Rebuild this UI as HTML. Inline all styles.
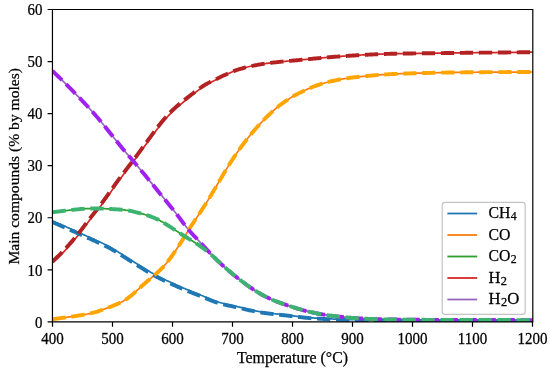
<!DOCTYPE html>
<html><head><meta charset="utf-8"><style>html,body{margin:0;padding:0;background:#fff;}svg{display:block;}</style></head>
<body>
<svg width="550" height="369" viewBox="0 0 550 369">
<rect width="550" height="369" fill="#fff"/>
<defs><clipPath id="ax"><rect x="52.5" y="9.5" width="480" height="312.4"/></clipPath>
<path id="cb" d="M52.5,222.20 L53.5,222.62 L54.5,223.04 L55.5,223.46 L56.5,223.88 L57.5,224.30 L58.5,224.73 L59.5,225.16 L60.5,225.58 L61.5,226.01 L62.5,226.45 L63.5,226.88 L64.5,227.32 L65.5,227.76 L66.5,228.20 L67.5,228.65 L68.5,229.10 L69.5,229.55 L70.5,230.00 L71.5,230.45 L72.5,230.90 L73.5,231.35 L74.5,231.81 L75.5,232.26 L76.5,232.71 L77.5,233.17 L78.5,233.62 L79.5,234.07 L80.5,234.52 L81.5,234.97 L82.5,235.42 L83.5,235.87 L84.5,236.31 L85.5,236.76 L86.5,237.21 L87.5,237.66 L88.5,238.10 L89.5,238.55 L90.5,239.00 L91.5,239.45 L92.5,239.90 L93.5,240.35 L94.5,240.80 L95.5,241.25 L96.5,241.70 L97.5,242.16 L98.5,242.61 L99.5,243.07 L100.5,243.52 L101.5,243.99 L102.5,244.46 L103.5,244.94 L104.5,245.42 L105.5,245.92 L106.5,246.42 L107.5,246.94 L108.5,247.47 L109.5,248.01 L110.5,248.57 L111.5,249.14 L112.5,249.72 L113.5,250.31 L114.5,250.91 L115.5,251.51 L116.5,252.13 L117.5,252.76 L118.5,253.39 L119.5,254.02 L120.5,254.65 L121.5,255.29 L122.5,255.93 L123.5,256.57 L124.5,257.21 L125.5,257.84 L126.5,258.48 L127.5,259.11 L128.5,259.75 L129.5,260.38 L130.5,261.01 L131.5,261.64 L132.5,262.27 L133.5,262.90 L134.5,263.53 L135.5,264.16 L136.5,264.79 L137.5,265.41 L138.5,266.04 L139.5,266.66 L140.5,267.28 L141.5,267.91 L142.5,268.52 L143.5,269.14 L144.5,269.76 L145.5,270.37 L146.5,270.98 L147.5,271.58 L148.5,272.18 L149.5,272.77 L150.5,273.36 L151.5,273.94 L152.5,274.51 L153.5,275.06 L154.5,275.61 L155.5,276.16 L156.5,276.69 L157.5,277.21 L158.5,277.72 L159.5,278.23 L160.5,278.73 L161.5,279.23 L162.5,279.71 L163.5,280.20 L164.5,280.68 L165.5,281.15 L166.5,281.62 L167.5,282.09 L168.5,282.56 L169.5,283.02 L170.5,283.48 L171.5,283.94 L172.5,284.40 L173.5,284.85 L174.5,285.31 L175.5,285.76 L176.5,286.21 L177.5,286.66 L178.5,287.10 L179.5,287.54 L180.5,287.98 L181.5,288.42 L182.5,288.85 L183.5,289.27 L184.5,289.70 L185.5,290.12 L186.5,290.53 L187.5,290.94 L188.5,291.34 L189.5,291.74 L190.5,292.14 L191.5,292.53 L192.5,292.92 L193.5,293.31 L194.5,293.70 L195.5,294.08 L196.5,294.47 L197.5,294.86 L198.5,295.25 L199.5,295.65 L200.5,296.05 L201.5,296.46 L202.5,296.87 L203.5,297.29 L204.5,297.71 L205.5,298.13 L206.5,298.55 L207.5,298.97 L208.5,299.39 L209.5,299.81 L210.5,300.22 L211.5,300.62 L212.5,301.00 L213.5,301.38 L214.5,301.75 L215.5,302.10 L216.5,302.43 L217.5,302.76 L218.5,303.06 L219.5,303.35 L220.5,303.63 L221.5,303.90 L222.5,304.15 L223.5,304.40 L224.5,304.64 L225.5,304.87 L226.5,305.09 L227.5,305.31 L228.5,305.53 L229.5,305.74 L230.5,305.96 L231.5,306.17 L232.5,306.38 L233.5,306.60 L234.5,306.81 L235.5,307.03 L236.5,307.25 L237.5,307.48 L238.5,307.70 L239.5,307.93 L240.5,308.17 L241.5,308.40 L242.5,308.64 L243.5,308.87 L244.5,309.11 L245.5,309.35 L246.5,309.58 L247.5,309.82 L248.5,310.05 L249.5,310.28 L250.5,310.50 L251.5,310.72 L252.5,310.94 L253.5,311.14 L254.5,311.35 L255.5,311.54 L256.5,311.73 L257.5,311.92 L258.5,312.09 L259.5,312.26 L260.5,312.42 L261.5,312.58 L262.5,312.73 L263.5,312.88 L264.5,313.02 L265.5,313.15 L266.5,313.28 L267.5,313.41 L268.5,313.53 L269.5,313.66 L270.5,313.78 L271.5,313.89 L272.5,314.01 L273.5,314.12 L274.5,314.23 L275.5,314.34 L276.5,314.45 L277.5,314.55 L278.5,314.66 L279.5,314.77 L280.5,314.87 L281.5,314.98 L282.5,315.09 L283.5,315.19 L284.5,315.30 L285.5,315.41 L286.5,315.52 L287.5,315.63 L288.5,315.74 L289.5,315.86 L290.5,315.98 L291.5,316.09 L292.5,316.21 L293.5,316.34 L294.5,316.46 L295.5,316.58 L296.5,316.70 L297.5,316.82 L298.5,316.95 L299.5,317.06 L300.5,317.18 L301.5,317.30 L302.5,317.41 L303.5,317.52 L304.5,317.62 L305.5,317.72 L306.5,317.81 L307.5,317.90 L308.5,317.99 L309.5,318.07 L310.5,318.15 L311.5,318.22 L312.5,318.29 L313.5,318.36 L314.5,318.43 L315.5,318.49 L316.5,318.55 L317.5,318.61 L318.5,318.67 L319.5,318.73 L320.5,318.79 L321.5,318.84 L322.5,318.89 L323.5,318.95 L324.5,319.00 L325.5,319.05 L326.5,319.10 L327.5,319.15 L328.5,319.21 L329.5,319.26 L330.5,319.31 L331.5,319.35 L332.5,319.40 L333.5,319.45 L334.5,319.50 L335.5,319.54 L336.5,319.59 L337.5,319.63 L338.5,319.67 L339.5,319.71 L340.5,319.75 L341.5,319.79 L342.5,319.82 L343.5,319.86 L344.5,319.89 L345.5,319.92 L346.5,319.95 L347.5,319.98 L348.5,320.00 L349.5,320.03 L350.5,320.06 L351.5,320.08 L352.5,320.11 L353.5,320.13 L354.5,320.16 L355.5,320.18 L356.5,320.20 L357.5,320.22 L358.5,320.25 L359.5,320.27 L360.5,320.29 L361.5,320.31 L362.5,320.33 L363.5,320.35 L364.5,320.37 L365.5,320.39 L366.5,320.40 L367.5,320.42 L368.5,320.44 L369.5,320.45 L370.5,320.47 L371.5,320.49 L372.5,320.50 L373.5,320.51 L374.5,320.53 L375.5,320.54 L376.5,320.55 L377.5,320.57 L378.5,320.58 L379.5,320.59 L380.5,320.60 L381.5,320.61 L382.5,320.62 L383.5,320.64 L384.5,320.65 L385.5,320.66 L386.5,320.67 L387.5,320.68 L388.5,320.68 L389.5,320.69 L390.5,320.70 L391.5,320.71 L392.5,320.72 L393.5,320.73 L394.5,320.74 L395.5,320.75 L396.5,320.75 L397.5,320.76 L398.5,320.77 L399.5,320.78 L400.5,320.78 L401.5,320.79 L402.5,320.80 L403.5,320.80 L404.5,320.81 L405.5,320.82 L406.5,320.82 L407.5,320.83 L408.5,320.84 L409.5,320.84 L410.5,320.85 L411.5,320.85 L412.5,320.86 L413.5,320.87 L414.5,320.87 L415.5,320.88 L416.5,320.88 L417.5,320.89 L418.5,320.89 L419.5,320.90 L420.5,320.90 L421.5,320.91 L422.5,320.91 L423.5,320.92 L424.5,320.92 L425.5,320.92 L426.5,320.93 L427.5,320.93 L428.5,320.94 L429.5,320.94 L430.5,320.95 L431.5,320.95 L432.5,320.95 L433.5,320.96 L434.5,320.96 L435.5,320.97 L436.5,320.97 L437.5,320.97 L438.5,320.98 L439.5,320.98 L440.5,320.98 L441.5,320.99 L442.5,320.99 L443.5,321.00 L444.5,321.00 L445.5,321.00 L446.5,321.01 L447.5,321.01 L448.5,321.01 L449.5,321.02 L450.5,321.02 L451.5,321.02 L452.5,321.03 L453.5,321.03 L454.5,321.03 L455.5,321.03 L456.5,321.04 L457.5,321.04 L458.5,321.04 L459.5,321.05 L460.5,321.05 L461.5,321.05 L462.5,321.05 L463.5,321.06 L464.5,321.06 L465.5,321.06 L466.5,321.07 L467.5,321.07 L468.5,321.07 L469.5,321.07 L470.5,321.08 L471.5,321.08 L472.5,321.08 L473.5,321.08 L474.5,321.09 L475.5,321.09 L476.5,321.09 L477.5,321.09 L478.5,321.10 L479.5,321.10 L480.5,321.10 L481.5,321.10 L482.5,321.11 L483.5,321.11 L484.5,321.11 L485.5,321.11 L486.5,321.12 L487.5,321.12 L488.5,321.12 L489.5,321.12 L490.5,321.12 L491.5,321.13 L492.5,321.13 L493.5,321.13 L494.5,321.13 L495.5,321.14 L496.5,321.14 L497.5,321.14 L498.5,321.14 L499.5,321.14 L500.5,321.15 L501.5,321.15 L502.5,321.15 L503.5,321.15 L504.5,321.15 L505.5,321.16 L506.5,321.16 L507.5,321.16 L508.5,321.16 L509.5,321.16 L510.5,321.17 L511.5,321.17 L512.5,321.17 L513.5,321.17 L514.5,321.17 L515.5,321.17 L516.5,321.18 L517.5,321.18 L518.5,321.18 L519.5,321.18 L520.5,321.18 L521.5,321.18 L522.5,321.19 L523.5,321.19 L524.5,321.19 L525.5,321.19 L526.5,321.19 L527.5,321.19 L528.5,321.19 L529.5,321.20 L530.5,321.20 L531.5,321.20 L532.5,321.20"/>
<path id="ctb" d="M52.5,221.00 L53.5,221.42 L54.5,221.84 L55.5,222.26 L56.5,222.68 L57.5,223.10 L58.5,223.53 L59.5,223.96 L60.5,224.38 L61.5,224.81 L62.5,225.25 L63.5,225.68 L64.5,226.12 L65.5,226.56 L66.5,227.00 L67.5,227.45 L68.5,227.90 L69.5,228.35 L70.5,228.80 L71.5,229.25 L72.5,229.70 L73.5,230.15 L74.5,230.61 L75.5,231.06 L76.5,231.51 L77.5,231.97 L78.5,232.42 L79.5,232.87 L80.5,233.32 L81.5,233.77 L82.5,234.22 L83.5,234.67 L84.5,235.11 L85.5,235.56 L86.5,236.01 L87.5,236.46 L88.5,236.90 L89.5,237.35 L90.5,237.80 L91.5,238.25 L92.5,238.70 L93.5,239.15 L94.5,239.60 L95.5,240.05 L96.5,240.50 L97.5,240.96 L98.5,241.41 L99.5,241.87 L100.5,242.32 L101.5,242.79 L102.5,243.26 L103.5,243.74 L104.5,244.22 L105.5,244.72 L106.5,245.22 L107.5,245.74 L108.5,246.27 L109.5,246.81 L110.5,247.37 L111.5,247.94 L112.5,248.52 L113.5,249.11 L114.5,249.71 L115.5,250.31 L116.5,250.93 L117.5,251.56 L118.5,252.19 L119.5,252.82 L120.5,253.45 L121.5,254.09 L122.5,254.73 L123.5,255.37 L124.5,256.01 L125.5,256.64 L126.5,257.28 L127.5,257.91 L128.5,258.55 L129.5,259.18 L130.5,259.81 L131.5,260.44 L132.5,261.07 L133.5,261.70 L134.5,262.33 L135.5,262.96 L136.5,263.59 L137.5,264.21 L138.5,264.84 L139.5,265.46 L140.5,266.08 L141.5,266.71 L142.5,267.32 L143.5,267.94 L144.5,268.56 L145.5,269.17 L146.5,269.78 L147.5,270.38 L148.5,270.98 L149.5,271.57 L150.5,272.16 L151.5,272.74 L152.5,273.31 L153.5,273.86 L154.5,274.41 L155.5,274.96 L156.5,275.49 L157.5,276.01 L158.5,276.52 L159.5,277.03 L160.5,277.53 L161.5,278.03 L162.5,278.51 L163.5,279.00 L164.5,279.48 L165.5,279.95 L166.5,280.42 L167.5,280.89 L168.5,281.36 L169.5,281.82 L170.5,282.28 L171.5,282.74 L172.5,283.20 L173.5,283.65 L174.5,284.11 L175.5,284.56 L176.5,285.01 L177.5,285.46 L178.5,285.90 L179.5,286.34 L180.5,286.79 L181.5,287.23 L182.5,287.67 L183.5,288.10 L184.5,288.53 L185.5,288.96 L186.5,289.38 L187.5,289.79 L188.5,290.20 L189.5,290.61 L190.5,291.02 L191.5,291.42 L192.5,291.81 L193.5,292.21 L194.5,292.60 L195.5,293.00 L196.5,293.39 L197.5,293.79 L198.5,294.19 L199.5,294.59 L200.5,295.00 L201.5,295.42 L202.5,295.84 L203.5,296.26 L204.5,296.69 L205.5,297.11 L206.5,297.54 L207.5,297.97 L208.5,298.40 L209.5,298.82 L210.5,299.24 L211.5,299.64 L212.5,300.04 L213.5,300.43 L214.5,300.80 L215.5,301.16 L216.5,301.50 L217.5,301.83 L218.5,302.14 L219.5,302.44 L220.5,302.73 L221.5,303.00 L222.5,303.26 L223.5,303.52 L224.5,303.76 L225.5,304.00 L226.5,304.23 L227.5,304.46 L228.5,304.68 L229.5,304.90 L230.5,305.12 L231.5,305.34 L232.5,305.56 L233.5,305.79 L234.5,306.01 L235.5,306.24 L236.5,306.46 L237.5,306.70 L238.5,306.93 L239.5,307.17 L240.5,307.41 L241.5,307.65 L242.5,307.89 L243.5,308.14 L244.5,308.38 L245.5,308.62 L246.5,308.87 L247.5,309.11 L248.5,309.35 L249.5,309.58 L250.5,309.81 L251.5,310.04 L252.5,310.26 L253.5,310.48 L254.5,310.69 L255.5,310.89 L256.5,311.09 L257.5,311.28 L258.5,311.46 L259.5,311.64 L260.5,311.81 L261.5,311.97 L262.5,312.13 L263.5,312.28 L264.5,312.43 L265.5,312.57 L266.5,312.71 L267.5,312.85 L268.5,312.98 L269.5,313.11 L270.5,313.23 L271.5,313.36 L272.5,313.48 L273.5,313.60 L274.5,313.72 L275.5,313.83 L276.5,313.95 L277.5,314.06 L278.5,314.18 L279.5,314.29 L280.5,314.40 L281.5,314.52 L282.5,314.63 L283.5,314.75 L284.5,314.86 L285.5,314.98 L286.5,315.09 L287.5,315.21 L288.5,315.33 L289.5,315.46 L290.5,315.58 L291.5,315.69 L292.5,315.81 L293.5,315.94 L294.5,316.06 L295.5,316.18 L296.5,316.30 L297.5,316.42 L298.5,316.55 L299.5,316.66 L300.5,316.78 L301.5,316.90 L302.5,317.01 L303.5,317.12 L304.5,317.22 L305.5,317.32 L306.5,317.41 L307.5,317.50 L308.5,317.59 L309.5,317.67 L310.5,317.75 L311.5,317.82 L312.5,317.89 L313.5,317.96 L314.5,318.03 L315.5,318.09 L316.5,318.15 L317.5,318.21 L318.5,318.27 L319.5,318.33 L320.5,318.39 L321.5,318.44 L322.5,318.49 L323.5,318.55 L324.5,318.60 L325.5,318.65 L326.5,318.70 L327.5,318.75 L328.5,318.81 L329.5,318.86 L330.5,318.91 L331.5,318.95 L332.5,319.00 L333.5,319.05 L334.5,319.10 L335.5,319.14 L336.5,319.19 L337.5,319.23 L338.5,319.27 L339.5,319.31 L340.5,319.35 L341.5,319.39 L342.5,319.42 L343.5,319.46 L344.5,319.49 L345.5,319.52 L346.5,319.55 L347.5,319.58 L348.5,319.60 L349.5,319.63 L350.5,319.66 L351.5,319.68 L352.5,319.71 L353.5,319.73 L354.5,319.76 L355.5,319.78 L356.5,319.80 L357.5,319.82 L358.5,319.85 L359.5,319.87 L360.5,319.89 L361.5,319.91 L362.5,319.93 L363.5,319.95 L364.5,319.97 L365.5,319.99 L366.5,320.00 L367.5,320.02 L368.5,320.04 L369.5,320.05 L370.5,320.07 L371.5,320.09 L372.5,320.10 L373.5,320.11 L374.5,320.13 L375.5,320.14 L376.5,320.15 L377.5,320.17 L378.5,320.18 L379.5,320.19 L380.5,320.20 L381.5,320.21 L382.5,320.22 L383.5,320.24 L384.5,320.25 L385.5,320.26 L386.5,320.27 L387.5,320.28 L388.5,320.28 L389.5,320.29 L390.5,320.30 L391.5,320.31 L392.5,320.32 L393.5,320.33 L394.5,320.34 L395.5,320.35 L396.5,320.35 L397.5,320.36 L398.5,320.37 L399.5,320.38 L400.5,320.38 L401.5,320.39 L402.5,320.40 L403.5,320.40 L404.5,320.41 L405.5,320.42 L406.5,320.42 L407.5,320.43 L408.5,320.44 L409.5,320.44 L410.5,320.45 L411.5,320.45 L412.5,320.46 L413.5,320.47 L414.5,320.47 L415.5,320.48 L416.5,320.48 L417.5,320.49 L418.5,320.49 L419.5,320.50 L420.5,320.50 L421.5,320.51 L422.5,320.51 L423.5,320.52 L424.5,320.52 L425.5,320.52 L426.5,320.53 L427.5,320.53 L428.5,320.54 L429.5,320.54 L430.5,320.55 L431.5,320.55 L432.5,320.55 L433.5,320.56 L434.5,320.56 L435.5,320.57 L436.5,320.57 L437.5,320.57 L438.5,320.58 L439.5,320.58 L440.5,320.58 L441.5,320.59 L442.5,320.59 L443.5,320.60 L444.5,320.60 L445.5,320.60 L446.5,320.61 L447.5,320.61 L448.5,320.61 L449.5,320.62 L450.5,320.62 L451.5,320.62 L452.5,320.63 L453.5,320.63 L454.5,320.63 L455.5,320.63 L456.5,320.64 L457.5,320.64 L458.5,320.64 L459.5,320.65 L460.5,320.65 L461.5,320.65 L462.5,320.65 L463.5,320.66 L464.5,320.66 L465.5,320.66 L466.5,320.67 L467.5,320.67 L468.5,320.67 L469.5,320.67 L470.5,320.68 L471.5,320.68 L472.5,320.68 L473.5,320.68 L474.5,320.69 L475.5,320.69 L476.5,320.69 L477.5,320.69 L478.5,320.70 L479.5,320.70 L480.5,320.70 L481.5,320.70 L482.5,320.71 L483.5,320.71 L484.5,320.71 L485.5,320.71 L486.5,320.72 L487.5,320.72 L488.5,320.72 L489.5,320.72 L490.5,320.72 L491.5,320.73 L492.5,320.73 L493.5,320.73 L494.5,320.73 L495.5,320.74 L496.5,320.74 L497.5,320.74 L498.5,320.74 L499.5,320.74 L500.5,320.75 L501.5,320.75 L502.5,320.75 L503.5,320.75 L504.5,320.75 L505.5,320.76 L506.5,320.76 L507.5,320.76 L508.5,320.76 L509.5,320.76 L510.5,320.77 L511.5,320.77 L512.5,320.77 L513.5,320.77 L514.5,320.77 L515.5,320.77 L516.5,320.78 L517.5,320.78 L518.5,320.78 L519.5,320.78 L520.5,320.78 L521.5,320.78 L522.5,320.79 L523.5,320.79 L524.5,320.79 L525.5,320.79 L526.5,320.79 L527.5,320.79 L528.5,320.79 L529.5,320.80 L530.5,320.80 L531.5,320.80 L532.5,320.80"/>
<path id="co" d="M52.5,319.20 L53.5,319.07 L54.5,318.94 L55.5,318.81 L56.5,318.67 L57.5,318.54 L58.5,318.41 L59.5,318.27 L60.5,318.14 L61.5,318.01 L62.5,317.87 L63.5,317.73 L64.5,317.60 L65.5,317.46 L66.5,317.32 L67.5,317.18 L68.5,317.05 L69.5,316.91 L70.5,316.77 L71.5,316.62 L72.5,316.48 L73.5,316.34 L74.5,316.19 L75.5,316.04 L76.5,315.89 L77.5,315.73 L78.5,315.58 L79.5,315.42 L80.5,315.26 L81.5,315.10 L82.5,314.93 L83.5,314.76 L84.5,314.59 L85.5,314.41 L86.5,314.22 L87.5,314.03 L88.5,313.84 L89.5,313.63 L90.5,313.42 L91.5,313.19 L92.5,312.95 L93.5,312.70 L94.5,312.43 L95.5,312.15 L96.5,311.85 L97.5,311.54 L98.5,311.21 L99.5,310.87 L100.5,310.52 L101.5,310.16 L102.5,309.79 L103.5,309.42 L104.5,309.04 L105.5,308.66 L106.5,308.27 L107.5,307.89 L108.5,307.50 L109.5,307.12 L110.5,306.73 L111.5,306.34 L112.5,305.95 L113.5,305.56 L114.5,305.16 L115.5,304.75 L116.5,304.33 L117.5,303.90 L118.5,303.46 L119.5,302.99 L120.5,302.51 L121.5,302.00 L122.5,301.47 L123.5,300.91 L124.5,300.32 L125.5,299.70 L126.5,299.05 L127.5,298.37 L128.5,297.65 L129.5,296.91 L130.5,296.13 L131.5,295.31 L132.5,294.47 L133.5,293.61 L134.5,292.72 L135.5,291.82 L136.5,290.90 L137.5,289.98 L138.5,289.05 L139.5,288.13 L140.5,287.22 L141.5,286.31 L142.5,285.42 L143.5,284.54 L144.5,283.67 L145.5,282.81 L146.5,281.95 L147.5,281.11 L148.5,280.26 L149.5,279.42 L150.5,278.57 L151.5,277.72 L152.5,276.87 L153.5,276.01 L154.5,275.14 L155.5,274.27 L156.5,273.38 L157.5,272.48 L158.5,271.55 L159.5,270.61 L160.5,269.64 L161.5,268.63 L162.5,267.59 L163.5,266.52 L164.5,265.40 L165.5,264.24 L166.5,263.04 L167.5,261.80 L168.5,260.53 L169.5,259.22 L170.5,257.88 L171.5,256.51 L172.5,255.12 L173.5,253.70 L174.5,252.25 L175.5,250.79 L176.5,249.30 L177.5,247.78 L178.5,246.25 L179.5,244.69 L180.5,243.12 L181.5,241.53 L182.5,239.92 L183.5,238.31 L184.5,236.70 L185.5,235.09 L186.5,233.48 L187.5,231.87 L188.5,230.28 L189.5,228.70 L190.5,227.13 L191.5,225.57 L192.5,224.02 L193.5,222.49 L194.5,220.96 L195.5,219.45 L196.5,217.94 L197.5,216.43 L198.5,214.93 L199.5,213.42 L200.5,211.91 L201.5,210.39 L202.5,208.86 L203.5,207.31 L204.5,205.75 L205.5,204.18 L206.5,202.59 L207.5,200.98 L208.5,199.36 L209.5,197.73 L210.5,196.08 L211.5,194.41 L212.5,192.74 L213.5,191.06 L214.5,189.37 L215.5,187.67 L216.5,185.96 L217.5,184.26 L218.5,182.55 L219.5,180.83 L220.5,179.12 L221.5,177.41 L222.5,175.71 L223.5,174.01 L224.5,172.32 L225.5,170.64 L226.5,168.98 L227.5,167.34 L228.5,165.71 L229.5,164.11 L230.5,162.54 L231.5,160.99 L232.5,159.46 L233.5,157.95 L234.5,156.46 L235.5,154.99 L236.5,153.53 L237.5,152.09 L238.5,150.66 L239.5,149.24 L240.5,147.84 L241.5,146.45 L242.5,145.08 L243.5,143.73 L244.5,142.40 L245.5,141.08 L246.5,139.79 L247.5,138.52 L248.5,137.26 L249.5,136.03 L250.5,134.81 L251.5,133.61 L252.5,132.42 L253.5,131.25 L254.5,130.09 L255.5,128.94 L256.5,127.80 L257.5,126.68 L258.5,125.57 L259.5,124.48 L260.5,123.40 L261.5,122.33 L262.5,121.28 L263.5,120.24 L264.5,119.22 L265.5,118.22 L266.5,117.22 L267.5,116.24 L268.5,115.27 L269.5,114.31 L270.5,113.36 L271.5,112.42 L272.5,111.50 L273.5,110.58 L274.5,109.69 L275.5,108.81 L276.5,107.96 L277.5,107.13 L278.5,106.32 L279.5,105.54 L280.5,104.77 L281.5,104.03 L282.5,103.30 L283.5,102.59 L284.5,101.88 L285.5,101.19 L286.5,100.51 L287.5,99.84 L288.5,99.18 L289.5,98.53 L290.5,97.89 L291.5,97.28 L292.5,96.67 L293.5,96.09 L294.5,95.52 L295.5,94.96 L296.5,94.42 L297.5,93.90 L298.5,93.38 L299.5,92.88 L300.5,92.39 L301.5,91.90 L302.5,91.43 L303.5,90.96 L304.5,90.49 L305.5,90.04 L306.5,89.59 L307.5,89.15 L308.5,88.71 L309.5,88.28 L310.5,87.86 L311.5,87.45 L312.5,87.05 L313.5,86.66 L314.5,86.28 L315.5,85.91 L316.5,85.56 L317.5,85.21 L318.5,84.87 L319.5,84.55 L320.5,84.23 L321.5,83.92 L322.5,83.61 L323.5,83.32 L324.5,83.03 L325.5,82.75 L326.5,82.48 L327.5,82.22 L328.5,81.96 L329.5,81.71 L330.5,81.46 L331.5,81.23 L332.5,80.99 L333.5,80.77 L334.5,80.55 L335.5,80.34 L336.5,80.13 L337.5,79.93 L338.5,79.73 L339.5,79.54 L340.5,79.36 L341.5,79.18 L342.5,79.00 L343.5,78.83 L344.5,78.67 L345.5,78.51 L346.5,78.36 L347.5,78.21 L348.5,78.07 L349.5,77.94 L350.5,77.80 L351.5,77.68 L352.5,77.55 L353.5,77.43 L354.5,77.31 L355.5,77.20 L356.5,77.09 L357.5,76.98 L358.5,76.87 L359.5,76.76 L360.5,76.65 L361.5,76.55 L362.5,76.44 L363.5,76.34 L364.5,76.24 L365.5,76.14 L366.5,76.04 L367.5,75.94 L368.5,75.84 L369.5,75.74 L370.5,75.65 L371.5,75.55 L372.5,75.46 L373.5,75.37 L374.5,75.28 L375.5,75.19 L376.5,75.11 L377.5,75.03 L378.5,74.95 L379.5,74.87 L380.5,74.79 L381.5,74.72 L382.5,74.65 L383.5,74.58 L384.5,74.52 L385.5,74.45 L386.5,74.39 L387.5,74.33 L388.5,74.27 L389.5,74.22 L390.5,74.16 L391.5,74.11 L392.5,74.06 L393.5,74.01 L394.5,73.96 L395.5,73.91 L396.5,73.87 L397.5,73.82 L398.5,73.78 L399.5,73.74 L400.5,73.70 L401.5,73.66 L402.5,73.63 L403.5,73.59 L404.5,73.56 L405.5,73.52 L406.5,73.49 L407.5,73.46 L408.5,73.43 L409.5,73.40 L410.5,73.37 L411.5,73.34 L412.5,73.31 L413.5,73.28 L414.5,73.25 L415.5,73.22 L416.5,73.19 L417.5,73.17 L418.5,73.14 L419.5,73.12 L420.5,73.09 L421.5,73.07 L422.5,73.04 L423.5,73.02 L424.5,73.00 L425.5,72.97 L426.5,72.95 L427.5,72.93 L428.5,72.91 L429.5,72.89 L430.5,72.87 L431.5,72.85 L432.5,72.83 L433.5,72.81 L434.5,72.79 L435.5,72.77 L436.5,72.75 L437.5,72.73 L438.5,72.71 L439.5,72.69 L440.5,72.67 L441.5,72.66 L442.5,72.64 L443.5,72.62 L444.5,72.60 L445.5,72.59 L446.5,72.57 L447.5,72.55 L448.5,72.54 L449.5,72.52 L450.5,72.51 L451.5,72.49 L452.5,72.48 L453.5,72.46 L454.5,72.45 L455.5,72.43 L456.5,72.42 L457.5,72.41 L458.5,72.39 L459.5,72.38 L460.5,72.37 L461.5,72.36 L462.5,72.35 L463.5,72.34 L464.5,72.33 L465.5,72.32 L466.5,72.31 L467.5,72.30 L468.5,72.29 L469.5,72.28 L470.5,72.27 L471.5,72.26 L472.5,72.26 L473.5,72.25 L474.5,72.24 L475.5,72.24 L476.5,72.23 L477.5,72.22 L478.5,72.21 L479.5,72.21 L480.5,72.20 L481.5,72.20 L482.5,72.19 L483.5,72.18 L484.5,72.18 L485.5,72.17 L486.5,72.17 L487.5,72.16 L488.5,72.16 L489.5,72.15 L490.5,72.15 L491.5,72.14 L492.5,72.14 L493.5,72.13 L494.5,72.13 L495.5,72.12 L496.5,72.12 L497.5,72.11 L498.5,72.11 L499.5,72.10 L500.5,72.10 L501.5,72.10 L502.5,72.09 L503.5,72.09 L504.5,72.08 L505.5,72.08 L506.5,72.08 L507.5,72.07 L508.5,72.07 L509.5,72.06 L510.5,72.06 L511.5,72.06 L512.5,72.05 L513.5,72.05 L514.5,72.05 L515.5,72.04 L516.5,72.04 L517.5,72.04 L518.5,72.03 L519.5,72.03 L520.5,72.03 L521.5,72.03 L522.5,72.02 L523.5,72.02 L524.5,72.02 L525.5,72.02 L526.5,72.01 L527.5,72.01 L528.5,72.01 L529.5,72.01 L530.5,72.00 L531.5,72.00 L532.5,72.00"/>
<path id="cr" d="M52.5,261.46 L53.5,260.54 L54.5,259.62 L55.5,258.69 L56.5,257.74 L57.5,256.78 L58.5,255.81 L59.5,254.82 L60.5,253.82 L61.5,252.80 L62.5,251.77 L63.5,250.72 L64.5,249.66 L65.5,248.58 L66.5,247.49 L67.5,246.39 L68.5,245.27 L69.5,244.15 L70.5,243.01 L71.5,241.86 L72.5,240.69 L73.5,239.52 L74.5,238.33 L75.5,237.13 L76.5,235.92 L77.5,234.69 L78.5,233.44 L79.5,232.17 L80.5,230.88 L81.5,229.58 L82.5,228.26 L83.5,226.93 L84.5,225.59 L85.5,224.25 L86.5,222.91 L87.5,221.58 L88.5,220.26 L89.5,218.96 L90.5,217.68 L91.5,216.41 L92.5,215.15 L93.5,213.90 L94.5,212.64 L95.5,211.39 L96.5,210.12 L97.5,208.84 L98.5,207.55 L99.5,206.24 L100.5,204.91 L101.5,203.56 L102.5,202.21 L103.5,200.83 L104.5,199.45 L105.5,198.06 L106.5,196.66 L107.5,195.26 L108.5,193.85 L109.5,192.44 L110.5,191.03 L111.5,189.61 L112.5,188.20 L113.5,186.78 L114.5,185.38 L115.5,183.97 L116.5,182.58 L117.5,181.19 L118.5,179.82 L119.5,178.45 L120.5,177.09 L121.5,175.75 L122.5,174.41 L123.5,173.08 L124.5,171.76 L125.5,170.45 L126.5,169.15 L127.5,167.85 L128.5,166.55 L129.5,165.26 L130.5,163.95 L131.5,162.64 L132.5,161.31 L133.5,159.98 L134.5,158.63 L135.5,157.27 L136.5,155.91 L137.5,154.54 L138.5,153.16 L139.5,151.78 L140.5,150.41 L141.5,149.04 L142.5,147.67 L143.5,146.31 L144.5,144.95 L145.5,143.59 L146.5,142.23 L147.5,140.87 L148.5,139.51 L149.5,138.15 L150.5,136.79 L151.5,135.42 L152.5,134.06 L153.5,132.71 L154.5,131.35 L155.5,130.01 L156.5,128.68 L157.5,127.36 L158.5,126.05 L159.5,124.77 L160.5,123.50 L161.5,122.26 L162.5,121.05 L163.5,119.85 L164.5,118.69 L165.5,117.55 L166.5,116.43 L167.5,115.34 L168.5,114.27 L169.5,113.22 L170.5,112.19 L171.5,111.19 L172.5,110.21 L173.5,109.25 L174.5,108.31 L175.5,107.39 L176.5,106.49 L177.5,105.61 L178.5,104.75 L179.5,103.91 L180.5,103.09 L181.5,102.28 L182.5,101.48 L183.5,100.69 L184.5,99.91 L185.5,99.14 L186.5,98.36 L187.5,97.59 L188.5,96.82 L189.5,96.04 L190.5,95.27 L191.5,94.49 L192.5,93.71 L193.5,92.93 L194.5,92.16 L195.5,91.39 L196.5,90.63 L197.5,89.88 L198.5,89.14 L199.5,88.43 L200.5,87.73 L201.5,87.05 L202.5,86.39 L203.5,85.76 L204.5,85.14 L205.5,84.55 L206.5,83.98 L207.5,83.42 L208.5,82.88 L209.5,82.36 L210.5,81.85 L211.5,81.34 L212.5,80.85 L213.5,80.36 L214.5,79.88 L215.5,79.41 L216.5,78.93 L217.5,78.46 L218.5,77.98 L219.5,77.51 L220.5,77.04 L221.5,76.56 L222.5,76.08 L223.5,75.61 L224.5,75.13 L225.5,74.66 L226.5,74.19 L227.5,73.73 L228.5,73.27 L229.5,72.82 L230.5,72.39 L231.5,71.97 L232.5,71.56 L233.5,71.17 L234.5,70.80 L235.5,70.43 L236.5,70.09 L237.5,69.76 L238.5,69.44 L239.5,69.13 L240.5,68.83 L241.5,68.55 L242.5,68.27 L243.5,68.00 L244.5,67.73 L245.5,67.47 L246.5,67.22 L247.5,66.98 L248.5,66.74 L249.5,66.51 L250.5,66.29 L251.5,66.07 L252.5,65.86 L253.5,65.65 L254.5,65.45 L255.5,65.25 L256.5,65.06 L257.5,64.88 L258.5,64.70 L259.5,64.53 L260.5,64.36 L261.5,64.19 L262.5,64.03 L263.5,63.88 L264.5,63.73 L265.5,63.59 L266.5,63.44 L267.5,63.31 L268.5,63.17 L269.5,63.04 L270.5,62.91 L271.5,62.79 L272.5,62.67 L273.5,62.55 L274.5,62.43 L275.5,62.32 L276.5,62.20 L277.5,62.09 L278.5,61.99 L279.5,61.88 L280.5,61.78 L281.5,61.67 L282.5,61.57 L283.5,61.48 L284.5,61.38 L285.5,61.29 L286.5,61.19 L287.5,61.10 L288.5,61.01 L289.5,60.92 L290.5,60.83 L291.5,60.74 L292.5,60.65 L293.5,60.56 L294.5,60.47 L295.5,60.38 L296.5,60.28 L297.5,60.19 L298.5,60.10 L299.5,60.00 L300.5,59.91 L301.5,59.81 L302.5,59.72 L303.5,59.62 L304.5,59.53 L305.5,59.43 L306.5,59.33 L307.5,59.24 L308.5,59.14 L309.5,59.05 L310.5,58.95 L311.5,58.85 L312.5,58.76 L313.5,58.66 L314.5,58.56 L315.5,58.47 L316.5,58.37 L317.5,58.28 L318.5,58.19 L319.5,58.09 L320.5,58.00 L321.5,57.91 L322.5,57.82 L323.5,57.73 L324.5,57.64 L325.5,57.55 L326.5,57.47 L327.5,57.38 L328.5,57.30 L329.5,57.21 L330.5,57.13 L331.5,57.05 L332.5,56.97 L333.5,56.89 L334.5,56.81 L335.5,56.74 L336.5,56.66 L337.5,56.59 L338.5,56.51 L339.5,56.44 L340.5,56.37 L341.5,56.29 L342.5,56.22 L343.5,56.15 L344.5,56.08 L345.5,56.01 L346.5,55.94 L347.5,55.88 L348.5,55.81 L349.5,55.74 L350.5,55.68 L351.5,55.62 L352.5,55.55 L353.5,55.49 L354.5,55.43 L355.5,55.37 L356.5,55.31 L357.5,55.25 L358.5,55.19 L359.5,55.13 L360.5,55.08 L361.5,55.02 L362.5,54.96 L363.5,54.91 L364.5,54.85 L365.5,54.80 L366.5,54.74 L367.5,54.69 L368.5,54.64 L369.5,54.59 L370.5,54.54 L371.5,54.49 L372.5,54.44 L373.5,54.39 L374.5,54.34 L375.5,54.30 L376.5,54.26 L377.5,54.21 L378.5,54.17 L379.5,54.13 L380.5,54.10 L381.5,54.06 L382.5,54.03 L383.5,54.00 L384.5,53.96 L385.5,53.94 L386.5,53.91 L387.5,53.88 L388.5,53.85 L389.5,53.83 L390.5,53.80 L391.5,53.78 L392.5,53.76 L393.5,53.73 L394.5,53.71 L395.5,53.69 L396.5,53.67 L397.5,53.65 L398.5,53.64 L399.5,53.62 L400.5,53.60 L401.5,53.59 L402.5,53.57 L403.5,53.55 L404.5,53.54 L405.5,53.52 L406.5,53.51 L407.5,53.50 L408.5,53.48 L409.5,53.47 L410.5,53.46 L411.5,53.45 L412.5,53.43 L413.5,53.42 L414.5,53.41 L415.5,53.40 L416.5,53.39 L417.5,53.38 L418.5,53.37 L419.5,53.36 L420.5,53.34 L421.5,53.33 L422.5,53.32 L423.5,53.31 L424.5,53.30 L425.5,53.29 L426.5,53.28 L427.5,53.27 L428.5,53.26 L429.5,53.25 L430.5,53.24 L431.5,53.22 L432.5,53.21 L433.5,53.20 L434.5,53.19 L435.5,53.18 L436.5,53.17 L437.5,53.15 L438.5,53.14 L439.5,53.13 L440.5,53.12 L441.5,53.10 L442.5,53.09 L443.5,53.08 L444.5,53.07 L445.5,53.05 L446.5,53.04 L447.5,53.03 L448.5,53.02 L449.5,53.00 L450.5,52.99 L451.5,52.98 L452.5,52.97 L453.5,52.95 L454.5,52.94 L455.5,52.93 L456.5,52.92 L457.5,52.91 L458.5,52.90 L459.5,52.88 L460.5,52.87 L461.5,52.86 L462.5,52.85 L463.5,52.84 L464.5,52.83 L465.5,52.82 L466.5,52.81 L467.5,52.80 L468.5,52.79 L469.5,52.78 L470.5,52.77 L471.5,52.76 L472.5,52.75 L473.5,52.74 L474.5,52.73 L475.5,52.72 L476.5,52.71 L477.5,52.70 L478.5,52.69 L479.5,52.68 L480.5,52.67 L481.5,52.66 L482.5,52.66 L483.5,52.65 L484.5,52.64 L485.5,52.63 L486.5,52.62 L487.5,52.61 L488.5,52.60 L489.5,52.59 L490.5,52.59 L491.5,52.58 L492.5,52.57 L493.5,52.56 L494.5,52.55 L495.5,52.54 L496.5,52.53 L497.5,52.52 L498.5,52.52 L499.5,52.51 L500.5,52.50 L501.5,52.49 L502.5,52.48 L503.5,52.47 L504.5,52.46 L505.5,52.45 L506.5,52.44 L507.5,52.43 L508.5,52.42 L509.5,52.42 L510.5,52.41 L511.5,52.40 L512.5,52.39 L513.5,52.38 L514.5,52.37 L515.5,52.36 L516.5,52.35 L517.5,52.34 L518.5,52.33 L519.5,52.32 L520.5,52.31 L521.5,52.30 L522.5,52.29 L523.5,52.28 L524.5,52.28 L525.5,52.27 L526.5,52.26 L527.5,52.25 L528.5,52.24 L529.5,52.23 L530.5,52.22 L531.5,52.21 L532.5,52.20"/>
<path id="ctr" d="M52.5,262.86 L53.5,261.94 L54.5,261.02 L55.5,260.09 L56.5,259.14 L57.5,258.18 L58.5,257.21 L59.5,256.22 L60.5,255.22 L61.5,254.20 L62.5,253.17 L63.5,252.12 L64.5,251.06 L65.5,249.98 L66.5,248.89 L67.5,247.79 L68.5,246.67 L69.5,245.55 L70.5,244.41 L71.5,243.26 L72.5,242.09 L73.5,240.92 L74.5,239.73 L75.5,238.53 L76.5,237.32 L77.5,236.09 L78.5,234.84 L79.5,233.57 L80.5,232.28 L81.5,230.98 L82.5,229.66 L83.5,228.33 L84.5,226.99 L85.5,225.65 L86.5,224.31 L87.5,222.98 L88.5,221.66 L89.5,220.36 L90.5,219.08 L91.5,217.81 L92.5,216.55 L93.5,215.30 L94.5,214.04 L95.5,212.79 L96.5,211.52 L97.5,210.24 L98.5,208.95 L99.5,207.64 L100.5,206.31 L101.5,204.96 L102.5,203.61 L103.5,202.23 L104.5,200.85 L105.5,199.46 L106.5,198.06 L107.5,196.66 L108.5,195.25 L109.5,193.84 L110.5,192.43 L111.5,191.01 L112.5,189.60 L113.5,188.18 L114.5,186.78 L115.5,185.37 L116.5,183.98 L117.5,182.59 L118.5,181.22 L119.5,179.85 L120.5,178.49 L121.5,177.15 L122.5,175.81 L123.5,174.48 L124.5,173.16 L125.5,171.85 L126.5,170.55 L127.5,169.25 L128.5,167.95 L129.5,166.66 L130.5,165.35 L131.5,164.04 L132.5,162.71 L133.5,161.38 L134.5,160.03 L135.5,158.67 L136.5,157.31 L137.5,155.94 L138.5,154.56 L139.5,153.18 L140.5,151.81 L141.5,150.44 L142.5,149.07 L143.5,147.71 L144.5,146.35 L145.5,144.99 L146.5,143.63 L147.5,142.27 L148.5,140.91 L149.5,139.55 L150.5,138.19 L151.5,136.82 L152.5,135.46 L153.5,134.11 L154.5,132.75 L155.5,131.41 L156.5,130.08 L157.5,128.76 L158.5,127.45 L159.5,126.17 L160.5,124.90 L161.5,123.66 L162.5,122.45 L163.5,121.25 L164.5,120.09 L165.5,118.95 L166.5,117.83 L167.5,116.74 L168.5,115.67 L169.5,114.62 L170.5,113.59 L171.5,112.59 L172.5,111.61 L173.5,110.65 L174.5,109.71 L175.5,108.79 L176.5,107.89 L177.5,107.01 L178.5,106.15 L179.5,105.31 L180.5,104.48 L181.5,103.64 L182.5,102.82 L183.5,102.01 L184.5,101.21 L185.5,100.41 L186.5,99.61 L187.5,98.82 L188.5,98.02 L189.5,97.22 L190.5,96.42 L191.5,95.62 L192.5,94.82 L193.5,94.02 L194.5,93.22 L195.5,92.42 L196.5,91.64 L197.5,90.87 L198.5,90.11 L199.5,89.37 L200.5,88.65 L201.5,87.95 L202.5,87.27 L203.5,86.61 L204.5,85.97 L205.5,85.36 L206.5,84.76 L207.5,84.18 L208.5,83.62 L209.5,83.07 L210.5,82.53 L211.5,82.01 L212.5,81.49 L213.5,80.98 L214.5,80.48 L215.5,79.98 L216.5,79.48 L217.5,78.98 L218.5,78.49 L219.5,77.99 L220.5,77.49 L221.5,76.99 L222.5,76.49 L223.5,75.99 L224.5,75.49 L225.5,75.00 L226.5,74.50 L227.5,74.02 L228.5,73.54 L229.5,73.07 L230.5,72.61 L231.5,72.17 L232.5,71.74 L233.5,71.32 L234.5,70.92 L235.5,70.54 L236.5,70.17 L237.5,69.82 L238.5,69.47 L239.5,69.14 L240.5,68.83 L241.5,68.55 L242.5,68.27 L243.5,68.00 L244.5,67.73 L245.5,67.47 L246.5,67.22 L247.5,66.98 L248.5,66.74 L249.5,66.51 L250.5,66.29 L251.5,66.07 L252.5,65.86 L253.5,65.65 L254.5,65.45 L255.5,65.25 L256.5,65.06 L257.5,64.88 L258.5,64.70 L259.5,64.53 L260.5,64.36 L261.5,64.19 L262.5,64.03 L263.5,63.88 L264.5,63.73 L265.5,63.59 L266.5,63.44 L267.5,63.31 L268.5,63.17 L269.5,63.04 L270.5,62.91 L271.5,62.79 L272.5,62.67 L273.5,62.55 L274.5,62.43 L275.5,62.32 L276.5,62.20 L277.5,62.09 L278.5,61.99 L279.5,61.88 L280.5,61.78 L281.5,61.67 L282.5,61.57 L283.5,61.48 L284.5,61.38 L285.5,61.29 L286.5,61.19 L287.5,61.10 L288.5,61.01 L289.5,60.92 L290.5,60.83 L291.5,60.74 L292.5,60.65 L293.5,60.56 L294.5,60.47 L295.5,60.38 L296.5,60.28 L297.5,60.19 L298.5,60.10 L299.5,60.00 L300.5,59.91 L301.5,59.81 L302.5,59.72 L303.5,59.62 L304.5,59.53 L305.5,59.43 L306.5,59.33 L307.5,59.24 L308.5,59.14 L309.5,59.05 L310.5,58.95 L311.5,58.85 L312.5,58.76 L313.5,58.66 L314.5,58.56 L315.5,58.47 L316.5,58.37 L317.5,58.28 L318.5,58.19 L319.5,58.09 L320.5,58.00 L321.5,57.91 L322.5,57.82 L323.5,57.73 L324.5,57.64 L325.5,57.55 L326.5,57.47 L327.5,57.38 L328.5,57.30 L329.5,57.21 L330.5,57.13 L331.5,57.05 L332.5,56.97 L333.5,56.89 L334.5,56.81 L335.5,56.74 L336.5,56.66 L337.5,56.59 L338.5,56.51 L339.5,56.44 L340.5,56.37 L341.5,56.29 L342.5,56.22 L343.5,56.15 L344.5,56.08 L345.5,56.01 L346.5,55.94 L347.5,55.88 L348.5,55.81 L349.5,55.74 L350.5,55.68 L351.5,55.62 L352.5,55.55 L353.5,55.49 L354.5,55.43 L355.5,55.37 L356.5,55.31 L357.5,55.25 L358.5,55.19 L359.5,55.13 L360.5,55.08 L361.5,55.02 L362.5,54.96 L363.5,54.91 L364.5,54.85 L365.5,54.80 L366.5,54.74 L367.5,54.69 L368.5,54.64 L369.5,54.59 L370.5,54.54 L371.5,54.49 L372.5,54.44 L373.5,54.39 L374.5,54.34 L375.5,54.30 L376.5,54.26 L377.5,54.21 L378.5,54.17 L379.5,54.13 L380.5,54.10 L381.5,54.06 L382.5,54.03 L383.5,54.00 L384.5,53.96 L385.5,53.94 L386.5,53.91 L387.5,53.88 L388.5,53.85 L389.5,53.83 L390.5,53.80 L391.5,53.78 L392.5,53.76 L393.5,53.73 L394.5,53.71 L395.5,53.69 L396.5,53.67 L397.5,53.65 L398.5,53.64 L399.5,53.62 L400.5,53.60 L401.5,53.59 L402.5,53.57 L403.5,53.55 L404.5,53.54 L405.5,53.52 L406.5,53.51 L407.5,53.50 L408.5,53.48 L409.5,53.47 L410.5,53.46 L411.5,53.45 L412.5,53.43 L413.5,53.42 L414.5,53.41 L415.5,53.40 L416.5,53.39 L417.5,53.38 L418.5,53.37 L419.5,53.36 L420.5,53.34 L421.5,53.33 L422.5,53.32 L423.5,53.31 L424.5,53.30 L425.5,53.29 L426.5,53.28 L427.5,53.27 L428.5,53.26 L429.5,53.25 L430.5,53.24 L431.5,53.22 L432.5,53.21 L433.5,53.20 L434.5,53.19 L435.5,53.18 L436.5,53.17 L437.5,53.15 L438.5,53.14 L439.5,53.13 L440.5,53.12 L441.5,53.10 L442.5,53.09 L443.5,53.08 L444.5,53.07 L445.5,53.05 L446.5,53.04 L447.5,53.03 L448.5,53.02 L449.5,53.00 L450.5,52.99 L451.5,52.98 L452.5,52.97 L453.5,52.95 L454.5,52.94 L455.5,52.93 L456.5,52.92 L457.5,52.91 L458.5,52.90 L459.5,52.88 L460.5,52.87 L461.5,52.86 L462.5,52.85 L463.5,52.84 L464.5,52.83 L465.5,52.82 L466.5,52.81 L467.5,52.80 L468.5,52.79 L469.5,52.78 L470.5,52.77 L471.5,52.76 L472.5,52.75 L473.5,52.74 L474.5,52.73 L475.5,52.72 L476.5,52.71 L477.5,52.70 L478.5,52.69 L479.5,52.68 L480.5,52.67 L481.5,52.66 L482.5,52.66 L483.5,52.65 L484.5,52.64 L485.5,52.63 L486.5,52.62 L487.5,52.61 L488.5,52.60 L489.5,52.59 L490.5,52.59 L491.5,52.58 L492.5,52.57 L493.5,52.56 L494.5,52.55 L495.5,52.54 L496.5,52.53 L497.5,52.52 L498.5,52.52 L499.5,52.51 L500.5,52.50 L501.5,52.49 L502.5,52.48 L503.5,52.47 L504.5,52.46 L505.5,52.45 L506.5,52.44 L507.5,52.43 L508.5,52.42 L509.5,52.42 L510.5,52.41 L511.5,52.40 L512.5,52.39 L513.5,52.38 L514.5,52.37 L515.5,52.36 L516.5,52.35 L517.5,52.34 L518.5,52.33 L519.5,52.32 L520.5,52.31 L521.5,52.30 L522.5,52.29 L523.5,52.28 L524.5,52.28 L525.5,52.27 L526.5,52.26 L527.5,52.25 L528.5,52.24 L529.5,52.23 L530.5,52.22 L531.5,52.21 L532.5,52.20"/>
<path id="cp" d="M52.5,70.91 L53.5,71.87 L54.5,72.84 L55.5,73.81 L56.5,74.78 L57.5,75.76 L58.5,76.74 L59.5,77.72 L60.5,78.70 L61.5,79.68 L62.5,80.67 L63.5,81.67 L64.5,82.66 L65.5,83.66 L66.5,84.66 L67.5,85.66 L68.5,86.67 L69.5,87.68 L70.5,88.69 L71.5,89.71 L72.5,90.72 L73.5,91.74 L74.5,92.76 L75.5,93.79 L76.5,94.81 L77.5,95.84 L78.5,96.87 L79.5,97.91 L80.5,98.95 L81.5,99.99 L82.5,101.04 L83.5,102.09 L84.5,103.14 L85.5,104.21 L86.5,105.28 L87.5,106.35 L88.5,107.44 L89.5,108.53 L90.5,109.63 L91.5,110.74 L92.5,111.86 L93.5,112.99 L94.5,114.13 L95.5,115.27 L96.5,116.43 L97.5,117.59 L98.5,118.76 L99.5,119.95 L100.5,121.13 L101.5,122.33 L102.5,123.54 L103.5,124.76 L104.5,125.98 L105.5,127.21 L106.5,128.45 L107.5,129.70 L108.5,130.95 L109.5,132.21 L110.5,133.47 L111.5,134.74 L112.5,136.00 L113.5,137.27 L114.5,138.53 L115.5,139.79 L116.5,141.05 L117.5,142.30 L118.5,143.55 L119.5,144.79 L120.5,146.01 L121.5,147.23 L122.5,148.44 L123.5,149.64 L124.5,150.83 L125.5,152.01 L126.5,153.19 L127.5,154.35 L128.5,155.52 L129.5,156.69 L130.5,157.85 L131.5,159.02 L132.5,160.19 L133.5,161.37 L134.5,162.55 L135.5,163.74 L136.5,164.93 L137.5,166.13 L138.5,167.33 L139.5,168.53 L140.5,169.74 L141.5,170.95 L142.5,172.16 L143.5,173.38 L144.5,174.59 L145.5,175.81 L146.5,177.02 L147.5,178.24 L148.5,179.46 L149.5,180.67 L150.5,181.89 L151.5,183.11 L152.5,184.34 L153.5,185.56 L154.5,186.78 L155.5,188.01 L156.5,189.24 L157.5,190.46 L158.5,191.69 L159.5,192.92 L160.5,194.15 L161.5,195.38 L162.5,196.61 L163.5,197.83 L164.5,199.06 L165.5,200.29 L166.5,201.51 L167.5,202.74 L168.5,203.96 L169.5,205.19 L170.5,206.42 L171.5,207.66 L172.5,208.90 L173.5,210.15 L174.5,211.41 L175.5,212.68 L176.5,213.97 L177.5,215.28 L178.5,216.60 L179.5,217.93 L180.5,219.28 L181.5,220.64 L182.5,221.99 L183.5,223.34 L184.5,224.68 L185.5,226.00 L186.5,227.29 L187.5,228.54 L188.5,229.76 L189.5,230.94 L190.5,232.07 L191.5,233.18 L192.5,234.25 L193.5,235.31 L194.5,236.35 L195.5,237.38 L196.5,238.42 L197.5,239.46 L198.5,240.51 L199.5,241.57 L200.5,242.65 L201.5,243.74 L202.5,244.84 L203.5,245.95 L204.5,247.05 L205.5,248.16 L206.5,249.26 L207.5,250.35 L208.5,251.42 L209.5,252.49 L210.5,253.54 L211.5,254.58 L212.5,255.61 L213.5,256.62 L214.5,257.62 L215.5,258.61 L216.5,259.59 L217.5,260.56 L218.5,261.51 L219.5,262.46 L220.5,263.40 L221.5,264.32 L222.5,265.24 L223.5,266.14 L224.5,267.04 L225.5,267.93 L226.5,268.80 L227.5,269.67 L228.5,270.53 L229.5,271.38 L230.5,272.23 L231.5,273.06 L232.5,273.89 L233.5,274.71 L234.5,275.52 L235.5,276.32 L236.5,277.12 L237.5,277.91 L238.5,278.70 L239.5,279.48 L240.5,280.25 L241.5,281.02 L242.5,281.78 L243.5,282.53 L244.5,283.28 L245.5,284.01 L246.5,284.74 L247.5,285.46 L248.5,286.17 L249.5,286.86 L250.5,287.55 L251.5,288.22 L252.5,288.89 L253.5,289.54 L254.5,290.19 L255.5,290.83 L256.5,291.45 L257.5,292.07 L258.5,292.68 L259.5,293.28 L260.5,293.87 L261.5,294.44 L262.5,295.01 L263.5,295.56 L264.5,296.09 L265.5,296.62 L266.5,297.13 L267.5,297.62 L268.5,298.10 L269.5,298.56 L270.5,299.02 L271.5,299.45 L272.5,299.88 L273.5,300.29 L274.5,300.70 L275.5,301.09 L276.5,301.48 L277.5,301.85 L278.5,302.22 L279.5,302.59 L280.5,302.95 L281.5,303.30 L282.5,303.65 L283.5,304.00 L284.5,304.34 L285.5,304.68 L286.5,305.02 L287.5,305.36 L288.5,305.69 L289.5,306.03 L290.5,306.36 L291.5,306.69 L292.5,307.01 L293.5,307.33 L294.5,307.65 L295.5,307.97 L296.5,308.28 L297.5,308.58 L298.5,308.88 L299.5,309.18 L300.5,309.46 L301.5,309.75 L302.5,310.02 L303.5,310.29 L304.5,310.55 L305.5,310.81 L306.5,311.06 L307.5,311.31 L308.5,311.55 L309.5,311.79 L310.5,312.02 L311.5,312.25 L312.5,312.48 L313.5,312.69 L314.5,312.91 L315.5,313.12 L316.5,313.32 L317.5,313.52 L318.5,313.71 L319.5,313.90 L320.5,314.08 L321.5,314.26 L322.5,314.43 L323.5,314.59 L324.5,314.76 L325.5,314.91 L326.5,315.07 L327.5,315.22 L328.5,315.36 L329.5,315.51 L330.5,315.64 L331.5,315.78 L332.5,315.91 L333.5,316.04 L334.5,316.17 L335.5,316.29 L336.5,316.41 L337.5,316.53 L338.5,316.64 L339.5,316.75 L340.5,316.85 L341.5,316.96 L342.5,317.06 L343.5,317.16 L344.5,317.25 L345.5,317.35 L346.5,317.44 L347.5,317.53 L348.5,317.61 L349.5,317.70 L350.5,317.78 L351.5,317.86 L352.5,317.93 L353.5,318.01 L354.5,318.08 L355.5,318.15 L356.5,318.22 L357.5,318.28 L358.5,318.34 L359.5,318.40 L360.5,318.46 L361.5,318.52 L362.5,318.57 L363.5,318.62 L364.5,318.68 L365.5,318.73 L366.5,318.77 L367.5,318.82 L368.5,318.87 L369.5,318.91 L370.5,318.95 L371.5,318.99 L372.5,319.03 L373.5,319.07 L374.5,319.10 L375.5,319.14 L376.5,319.17 L377.5,319.20 L378.5,319.23 L379.5,319.25 L380.5,319.28 L381.5,319.30 L382.5,319.32 L383.5,319.35 L384.5,319.37 L385.5,319.39 L386.5,319.40 L387.5,319.42 L388.5,319.44 L389.5,319.46 L390.5,319.47 L391.5,319.49 L392.5,319.51 L393.5,319.52 L394.5,319.54 L395.5,319.55 L396.5,319.57 L397.5,319.58 L398.5,319.59 L399.5,319.61 L400.5,319.62 L401.5,319.63 L402.5,319.65 L403.5,319.66 L404.5,319.67 L405.5,319.68 L406.5,319.69 L407.5,319.70 L408.5,319.71 L409.5,319.72 L410.5,319.73 L411.5,319.74 L412.5,319.75 L413.5,319.75 L414.5,319.76 L415.5,319.77 L416.5,319.78 L417.5,319.78 L418.5,319.79 L419.5,319.80 L420.5,319.80 L421.5,319.81 L422.5,319.81 L423.5,319.82 L424.5,319.82 L425.5,319.83 L426.5,319.83 L427.5,319.84 L428.5,319.84 L429.5,319.85 L430.5,319.85 L431.5,319.86 L432.5,319.86 L433.5,319.86 L434.5,319.87 L435.5,319.87 L436.5,319.88 L437.5,319.88 L438.5,319.88 L439.5,319.89 L440.5,319.89 L441.5,319.89 L442.5,319.90 L443.5,319.90 L444.5,319.91 L445.5,319.91 L446.5,319.91 L447.5,319.92 L448.5,319.92 L449.5,319.92 L450.5,319.92 L451.5,319.93 L452.5,319.93 L453.5,319.93 L454.5,319.94 L455.5,319.94 L456.5,319.94 L457.5,319.94 L458.5,319.95 L459.5,319.95 L460.5,319.95 L461.5,319.95 L462.5,319.96 L463.5,319.96 L464.5,319.96 L465.5,319.97 L466.5,319.97 L467.5,319.97 L468.5,319.97 L469.5,319.97 L470.5,319.98 L471.5,319.98 L472.5,319.98 L473.5,319.98 L474.5,319.99 L475.5,319.99 L476.5,319.99 L477.5,319.99 L478.5,320.00 L479.5,320.00 L480.5,320.00 L481.5,320.00 L482.5,320.01 L483.5,320.01 L484.5,320.01 L485.5,320.01 L486.5,320.02 L487.5,320.02 L488.5,320.02 L489.5,320.02 L490.5,320.02 L491.5,320.03 L492.5,320.03 L493.5,320.03 L494.5,320.03 L495.5,320.04 L496.5,320.04 L497.5,320.04 L498.5,320.04 L499.5,320.04 L500.5,320.05 L501.5,320.05 L502.5,320.05 L503.5,320.05 L504.5,320.05 L505.5,320.06 L506.5,320.06 L507.5,320.06 L508.5,320.06 L509.5,320.06 L510.5,320.07 L511.5,320.07 L512.5,320.07 L513.5,320.07 L514.5,320.07 L515.5,320.07 L516.5,320.08 L517.5,320.08 L518.5,320.08 L519.5,320.08 L520.5,320.08 L521.5,320.08 L522.5,320.09 L523.5,320.09 L524.5,320.09 L525.5,320.09 L526.5,320.09 L527.5,320.09 L528.5,320.09 L529.5,320.10 L530.5,320.10 L531.5,320.10 L532.5,320.10"/>
<path id="cg" d="M52.5,212.20 L53.5,212.08 L54.5,211.95 L55.5,211.83 L56.5,211.71 L57.5,211.59 L58.5,211.47 L59.5,211.35 L60.5,211.23 L61.5,211.11 L62.5,211.00 L63.5,210.88 L64.5,210.77 L65.5,210.66 L66.5,210.54 L67.5,210.43 L68.5,210.32 L69.5,210.21 L70.5,210.09 L71.5,209.98 L72.5,209.87 L73.5,209.76 L74.5,209.65 L75.5,209.54 L76.5,209.43 L77.5,209.33 L78.5,209.24 L79.5,209.14 L80.5,209.06 L81.5,208.98 L82.5,208.90 L83.5,208.84 L84.5,208.78 L85.5,208.72 L86.5,208.67 L87.5,208.63 L88.5,208.59 L89.5,208.55 L90.5,208.52 L91.5,208.50 L92.5,208.48 L93.5,208.47 L94.5,208.46 L95.5,208.45 L96.5,208.46 L97.5,208.47 L98.5,208.48 L99.5,208.50 L100.5,208.53 L101.5,208.56 L102.5,208.60 L103.5,208.64 L104.5,208.69 L105.5,208.73 L106.5,208.79 L107.5,208.84 L108.5,208.90 L109.5,208.95 L110.5,209.01 L111.5,209.07 L112.5,209.13 L113.5,209.18 L114.5,209.24 L115.5,209.30 L116.5,209.36 L117.5,209.42 L118.5,209.48 L119.5,209.54 L120.5,209.61 L121.5,209.69 L122.5,209.77 L123.5,209.87 L124.5,209.97 L125.5,210.09 L126.5,210.22 L127.5,210.37 L128.5,210.54 L129.5,210.72 L130.5,210.91 L131.5,211.11 L132.5,211.33 L133.5,211.56 L134.5,211.79 L135.5,212.03 L136.5,212.28 L137.5,212.53 L138.5,212.79 L139.5,213.06 L140.5,213.33 L141.5,213.61 L142.5,213.89 L143.5,214.18 L144.5,214.48 L145.5,214.79 L146.5,215.10 L147.5,215.43 L148.5,215.76 L149.5,216.11 L150.5,216.46 L151.5,216.83 L152.5,217.21 L153.5,217.61 L154.5,218.02 L155.5,218.45 L156.5,218.90 L157.5,219.36 L158.5,219.85 L159.5,220.37 L160.5,220.90 L161.5,221.46 L162.5,222.03 L163.5,222.63 L164.5,223.23 L165.5,223.85 L166.5,224.48 L167.5,225.12 L168.5,225.76 L169.5,226.40 L170.5,227.05 L171.5,227.70 L172.5,228.36 L173.5,229.01 L174.5,229.67 L175.5,230.33 L176.5,230.99 L177.5,231.64 L178.5,232.30 L179.5,232.95 L180.5,233.60 L181.5,234.24 L182.5,234.88 L183.5,235.51 L184.5,236.13 L185.5,236.75 L186.5,237.37 L187.5,237.98 L188.5,238.60 L189.5,239.21 L190.5,239.82 L191.5,240.44 L192.5,241.07 L193.5,241.70 L194.5,242.34 L195.5,242.99 L196.5,243.64 L197.5,244.31 L198.5,244.98 L199.5,245.66 L200.5,246.36 L201.5,247.06 L202.5,247.78 L203.5,248.51 L204.5,249.25 L205.5,250.01 L206.5,250.79 L207.5,251.58 L208.5,252.40 L209.5,253.23 L210.5,254.09 L211.5,254.97 L212.5,255.86 L213.5,256.78 L214.5,257.70 L215.5,258.64 L216.5,259.59 L217.5,260.54 L218.5,261.48 L219.5,262.43 L220.5,263.36 L221.5,264.29 L222.5,265.21 L223.5,266.12 L224.5,267.01 L225.5,267.90 L226.5,268.78 L227.5,269.65 L228.5,270.51 L229.5,271.36 L230.5,272.20 L231.5,273.04 L232.5,273.87 L233.5,274.69 L234.5,275.51 L235.5,276.31 L236.5,277.11 L237.5,277.91 L238.5,278.70 L239.5,279.48 L240.5,280.25 L241.5,281.02 L242.5,281.78 L243.5,282.53 L244.5,283.28 L245.5,284.01 L246.5,284.74 L247.5,285.46 L248.5,286.17 L249.5,286.86 L250.5,287.55 L251.5,288.22 L252.5,288.89 L253.5,289.54 L254.5,290.19 L255.5,290.83 L256.5,291.45 L257.5,292.07 L258.5,292.68 L259.5,293.28 L260.5,293.87 L261.5,294.44 L262.5,295.01 L263.5,295.56 L264.5,296.09 L265.5,296.62 L266.5,297.13 L267.5,297.62 L268.5,298.10 L269.5,298.56 L270.5,299.02 L271.5,299.45 L272.5,299.88 L273.5,300.29 L274.5,300.70 L275.5,301.09 L276.5,301.48 L277.5,301.85 L278.5,302.22 L279.5,302.59 L280.5,302.95 L281.5,303.30 L282.5,303.65 L283.5,304.00 L284.5,304.34 L285.5,304.68 L286.5,305.02 L287.5,305.36 L288.5,305.69 L289.5,306.03 L290.5,306.36 L291.5,306.69 L292.5,307.01 L293.5,307.33 L294.5,307.65 L295.5,307.97 L296.5,308.28 L297.5,308.58 L298.5,308.88 L299.5,309.18 L300.5,309.46 L301.5,309.75 L302.5,310.02 L303.5,310.29 L304.5,310.55 L305.5,310.81 L306.5,311.06 L307.5,311.31 L308.5,311.55 L309.5,311.79 L310.5,312.02 L311.5,312.25 L312.5,312.48 L313.5,312.69 L314.5,312.91 L315.5,313.12 L316.5,313.32 L317.5,313.52 L318.5,313.71 L319.5,313.90 L320.5,314.08 L321.5,314.26 L322.5,314.43 L323.5,314.59 L324.5,314.76 L325.5,314.91 L326.5,315.07 L327.5,315.22 L328.5,315.36 L329.5,315.51 L330.5,315.64 L331.5,315.78 L332.5,315.91 L333.5,316.04 L334.5,316.17 L335.5,316.29 L336.5,316.41 L337.5,316.53 L338.5,316.64 L339.5,316.75 L340.5,316.85 L341.5,316.96 L342.5,317.06 L343.5,317.16 L344.5,317.25 L345.5,317.35 L346.5,317.44 L347.5,317.53 L348.5,317.61 L349.5,317.70 L350.5,317.78 L351.5,317.86 L352.5,317.93 L353.5,318.01 L354.5,318.08 L355.5,318.15 L356.5,318.22 L357.5,318.28 L358.5,318.34 L359.5,318.40 L360.5,318.46 L361.5,318.52 L362.5,318.57 L363.5,318.62 L364.5,318.68 L365.5,318.73 L366.5,318.77 L367.5,318.82 L368.5,318.87 L369.5,318.91 L370.5,318.95 L371.5,318.99 L372.5,319.03 L373.5,319.07 L374.5,319.10 L375.5,319.14 L376.5,319.17 L377.5,319.20 L378.5,319.23 L379.5,319.25 L380.5,319.28 L381.5,319.30 L382.5,319.32 L383.5,319.35 L384.5,319.37 L385.5,319.39 L386.5,319.40 L387.5,319.42 L388.5,319.44 L389.5,319.46 L390.5,319.47 L391.5,319.49 L392.5,319.51 L393.5,319.52 L394.5,319.54 L395.5,319.55 L396.5,319.57 L397.5,319.58 L398.5,319.59 L399.5,319.61 L400.5,319.62 L401.5,319.63 L402.5,319.65 L403.5,319.66 L404.5,319.67 L405.5,319.68 L406.5,319.69 L407.5,319.70 L408.5,319.71 L409.5,319.72 L410.5,319.73 L411.5,319.74 L412.5,319.75 L413.5,319.75 L414.5,319.76 L415.5,319.77 L416.5,319.78 L417.5,319.78 L418.5,319.79 L419.5,319.80 L420.5,319.80 L421.5,319.81 L422.5,319.81 L423.5,319.82 L424.5,319.82 L425.5,319.83 L426.5,319.83 L427.5,319.84 L428.5,319.84 L429.5,319.85 L430.5,319.85 L431.5,319.86 L432.5,319.86 L433.5,319.86 L434.5,319.87 L435.5,319.87 L436.5,319.88 L437.5,319.88 L438.5,319.88 L439.5,319.89 L440.5,319.89 L441.5,319.89 L442.5,319.90 L443.5,319.90 L444.5,319.91 L445.5,319.91 L446.5,319.91 L447.5,319.92 L448.5,319.92 L449.5,319.92 L450.5,319.92 L451.5,319.93 L452.5,319.93 L453.5,319.93 L454.5,319.94 L455.5,319.94 L456.5,319.94 L457.5,319.94 L458.5,319.95 L459.5,319.95 L460.5,319.95 L461.5,319.95 L462.5,319.96 L463.5,319.96 L464.5,319.96 L465.5,319.97 L466.5,319.97 L467.5,319.97 L468.5,319.97 L469.5,319.97 L470.5,319.98 L471.5,319.98 L472.5,319.98 L473.5,319.98 L474.5,319.99 L475.5,319.99 L476.5,319.99 L477.5,319.99 L478.5,320.00 L479.5,320.00 L480.5,320.00 L481.5,320.00 L482.5,320.01 L483.5,320.01 L484.5,320.01 L485.5,320.01 L486.5,320.02 L487.5,320.02 L488.5,320.02 L489.5,320.02 L490.5,320.02 L491.5,320.03 L492.5,320.03 L493.5,320.03 L494.5,320.03 L495.5,320.04 L496.5,320.04 L497.5,320.04 L498.5,320.04 L499.5,320.04 L500.5,320.05 L501.5,320.05 L502.5,320.05 L503.5,320.05 L504.5,320.05 L505.5,320.06 L506.5,320.06 L507.5,320.06 L508.5,320.06 L509.5,320.06 L510.5,320.07 L511.5,320.07 L512.5,320.07 L513.5,320.07 L514.5,320.07 L515.5,320.07 L516.5,320.08 L517.5,320.08 L518.5,320.08 L519.5,320.08 L520.5,320.08 L521.5,320.08 L522.5,320.09 L523.5,320.09 L524.5,320.09 L525.5,320.09 L526.5,320.09 L527.5,320.09 L528.5,320.09 L529.5,320.10 L530.5,320.10 L531.5,320.10 L532.5,320.10"/>
</defs>
<g clip-path="url(#ax)" fill="none" stroke-linejoin="round">
<use href="#ctb" stroke="#1f77b4" stroke-width="1.7" stroke-linecap="square"/>
<use href="#co" stroke="#ff7f0e" stroke-width="1.7" stroke-linecap="square"/>
<use href="#cg" stroke="#2ca02c" stroke-width="1.7" stroke-linecap="square"/>
<use href="#ctr" stroke="#d62728" stroke-width="1.7" stroke-linecap="square"/>
<use href="#cp" stroke="#9467bd" stroke-width="1.7" stroke-linecap="square"/>
<use href="#cb" stroke="#1f77b4" stroke-width="3.9" stroke-dasharray="13.3 5.7"/>
<use href="#co" stroke="#ffa500" stroke-width="3.9" stroke-dasharray="13.3 5.7"/>
<use href="#cr" stroke="#b22222" stroke-width="3.9" stroke-dasharray="13.3 5.7"/>
<use href="#cp" stroke="#a020f0" stroke-width="3.9" stroke-dasharray="13.3 5.7"/>
<use href="#cg" stroke="#3cb371" stroke-width="3.9" stroke-dasharray="13.3 5.7"/>
</g>
<g stroke="#000" stroke-width="1.2" fill="none" stroke-linecap="square">
<path d="M52.45,9.5H532.8V321.9H52.45Z"/>
</g>
<path d="M52.50,321.90V326.80 M112.50,321.90V326.80 M172.50,321.90V326.80 M232.50,321.90V326.80 M292.50,321.90V326.80 M352.50,321.90V326.80 M412.50,321.90V326.80 M472.50,321.90V326.80 M532.50,321.90V326.80 M52.50,321.90H47.60 M52.50,269.83H47.60 M52.50,217.77H47.60 M52.50,165.70H47.60 M52.50,113.63H47.60 M52.50,61.57H47.60 M52.50,9.50H47.60" stroke="#000" stroke-width="1.2"/>
<g font-family="Liberation Serif, serif" font-size="15.8" fill="#000" stroke="#000" stroke-width="0.25">
<text transform="translate(52.50,343.5) scale(0.95,1)" text-anchor="middle">400</text>
<text transform="translate(112.50,343.5) scale(0.95,1)" text-anchor="middle">500</text>
<text transform="translate(172.50,343.5) scale(0.95,1)" text-anchor="middle">600</text>
<text transform="translate(232.50,343.5) scale(0.95,1)" text-anchor="middle">700</text>
<text transform="translate(292.50,343.5) scale(0.95,1)" text-anchor="middle">800</text>
<text transform="translate(352.50,343.5) scale(0.95,1)" text-anchor="middle">900</text>
<text transform="translate(412.50,343.5) scale(0.95,1)" text-anchor="middle">1000</text>
<text transform="translate(472.50,343.5) scale(0.95,1)" text-anchor="middle">1100</text>
<text transform="translate(532.50,343.5) scale(0.95,1)" text-anchor="middle">1200</text>
<text transform="translate(42.4,327.60) scale(0.94,1)" text-anchor="end">0</text>
<text transform="translate(42.4,275.53) scale(0.94,1)" text-anchor="end">10</text>
<text transform="translate(42.4,223.47) scale(0.94,1)" text-anchor="end">20</text>
<text transform="translate(42.4,171.40) scale(0.94,1)" text-anchor="end">30</text>
<text transform="translate(42.4,119.33) scale(0.94,1)" text-anchor="end">40</text>
<text transform="translate(42.4,67.27) scale(0.94,1)" text-anchor="end">50</text>
<text transform="translate(42.4,15.20) scale(0.94,1)" text-anchor="end">60</text>
<text x="292.5" y="363.1" text-anchor="middle">Temperature (°C)</text>
<text transform="translate(18.9,166.3) rotate(-90)" text-anchor="middle" font-size="15.6">Main compounds (% by moles)</text>
</g>
<rect x="442.2" y="202.4" width="83.0" height="111.9" rx="2.8" fill="#fff" fill-opacity="0.8" stroke="#c4c4c4" stroke-width="1.2"/>
<line x1="447.4" x2="477.2" y1="213.5" y2="213.5" stroke="#1f77b4" stroke-width="1.8"/>
<text transform="translate(488.4,218.2) scale(1.0,1)" font-family="Liberation Serif, serif" font-size="15.8" stroke="#000" stroke-width="0.25">CH<tspan font-size="11.8" dx="0.4" dy="2">4</tspan></text>
<line x1="447.4" x2="477.2" y1="235.0" y2="235.0" stroke="#ff7f0e" stroke-width="1.8"/>
<text transform="translate(488.4,239.7) scale(1.0,1)" font-family="Liberation Serif, serif" font-size="15.8" stroke="#000" stroke-width="0.25">CO</text>
<line x1="447.4" x2="477.2" y1="256.5" y2="256.5" stroke="#2ca02c" stroke-width="1.8"/>
<text transform="translate(488.4,261.2) scale(1.0,1)" font-family="Liberation Serif, serif" font-size="15.8" stroke="#000" stroke-width="0.25">CO<tspan font-size="11.8" dx="0.4" dy="2">2</tspan></text>
<line x1="447.4" x2="477.2" y1="278.0" y2="278.0" stroke="#d62728" stroke-width="1.8"/>
<text transform="translate(488.4,282.7) scale(1.05,1)" font-family="Liberation Serif, serif" font-size="15.8" stroke="#000" stroke-width="0.25">H<tspan font-size="11.8" dx="0.4" dy="2">2</tspan></text>
<line x1="447.4" x2="477.2" y1="299.5" y2="299.5" stroke="#9467bd" stroke-width="1.8"/>
<text transform="translate(488.4,304.2) scale(1.06,1)" font-family="Liberation Serif, serif" font-size="15.8" stroke="#000" stroke-width="0.25">H<tspan font-size="11.8" dx="0.4" dy="2">2</tspan><tspan dy="-2">O</tspan></text>
</svg>
</body></html>
